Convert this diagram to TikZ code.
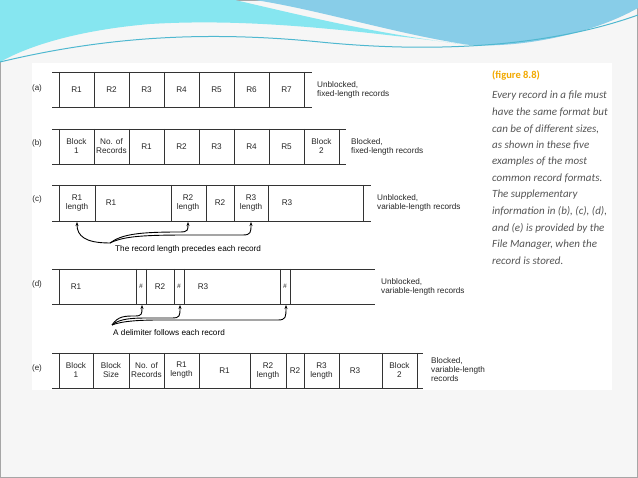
\documentclass[tikz,border=0pt]{standalone}
\usepackage{fontspec}
\setmainfont{Liberation Sans}
\newfontfamily\sidefont{Carlito}
\usetikzlibrary{arrows.meta}
\definecolor{slidebg}{HTML}{F6F6F6}
\definecolor{cyanw}{HTML}{86E6F0}
\definecolor{bluew}{HTML}{88CDE8}
\definecolor{tealw}{HTML}{4FB8D0}
\definecolor{titleor}{HTML}{F2A900}
\definecolor{bodyg}{HTML}{555555}
\tikzset{
  rl/.style={line width=0.6pt,draw=black!80},
  cell/.style={font=\fontsize{8.2}{9}\selectfont,align=center,inner sep=0pt,text=black!85},
  rowlab/.style={font=\fontsize{8}{9}\selectfont,inner sep=0pt,text=black!85},
  desc/.style={font=\fontsize{8.2}{9}\selectfont,align=left,anchor=west,inner sep=0pt,text=black!85},
  note/.style={font=\fontsize{8.2}{9}\selectfont,anchor=west,inner sep=0pt,text=black},
  arr/.style={line width=0.9pt,-{Stealth[length=4pt,width=3pt]}},
  side/.style={font=\sidefont\itshape\fontsize{11}{12}\selectfont,text=bodyg,anchor=west,inner sep=0pt}
}
\begin{document}
\begin{tikzpicture}[x=1pt,y=-1pt]
\useasboundingbox (0,0) rectangle (638,478);
\fill[slidebg] (0,0) rectangle (638,478);
\draw[gray!70,line width=0.8pt] (0.5,0.5) rectangle (637.5,477.5);
% banner
\fill[cyanw] (0,0)--(235,0) .. controls (300,15) and (380,35) .. (470,45) .. controls (350,30) and (250,18) .. (150,24) .. controls (80,30) and (30,45) .. (0,62) -- cycle;
\fill[bluew] (255,0)--(638,0)--(638,8) .. controls (590,35) and (520,48) .. (470,45) .. controls (400,35) and (320,10) .. (255,0) -- cycle;
\draw[tealw,line width=1pt] (0,62) .. controls (100,38) and (200,30) .. (320,42) .. controls (420,52) and (540,50) .. (638,15);
% white panel
\fill[white] (32,63) rectangle (612,390);
% (a)
\node[rowlab] (la) at (37,88) {(a)};
\draw[rl] (52,72)--(312,72) (52,107)--(312,107);
\foreach \x in {59,94,129,164,199,234,269,304} \draw[rl] (\x,72)--(\x,107);
\foreach \c/\t [count=\i] in {76.5/R1,111.5/R2,146.5/R3,181.5/R4,216.5/R5,251.5/R6,286.5/R7}
  \node[cell] (a\i) at (\c,90) {\t};
\node[desc] (da) at (317,90) {Unblocked,\\fixed-length records};
% (b)
\node[rowlab] (lb) at (37,143) {(b)};
\draw[rl] (52,129)--(346,129) (52,164)--(346,164);
\foreach \x in {59,94,129,164,199,234,269,304,339} \draw[rl] (\x,129)--(\x,164);
\foreach \c/\t [count=\i] in {76.5/Block\\1,111.5/No. of\\Records,146.5/R1,181.5/R2,216.5/R3,251.5/R4,286.5/R5,321.5/Block\\2}
  \node[cell] (b\i) at (\c,146.5) {\t};
\node[desc] (db) at (351,147) {Blocked,\\fixed-length records};
% (c)
\node[rowlab] (lc) at (37,199) {(c)};
\draw[rl] (52,185)--(371,185) (52,221)--(371,221);
\foreach \x in {59,95,171,206,234,268,363} \draw[rl] (\x,185)--(\x,221);
\node[cell] (c1) at (77,203) {R1\\length};
\node[cell] (c2) at (111,203) {R1};
\node[cell] (c3) at (188,203) {R2\\length};
\node[cell] (c4) at (220,203) {R2};
\node[cell] (c5) at (251,203) {R3\\length};
\node[cell] (c6) at (287,203) {R3};
\node[desc] (dc) at (377,203) {Unblocked,\\variable-length records};
\coordinate (co) at (110,243);
\coordinate (ct1) at (77,222);
\coordinate (ct2) at (188,222);
\coordinate (ct3) at (251,222);
\draw[arr] (co) .. controls (85,243) and (77,236) .. (ct1);
\draw[arr] (co) .. controls (122,234) and (140,232) .. (180,232) .. controls (188,232) and (188,230) .. (ct2);
\draw[arr] (co) .. controls (124,236) and (145,235) .. (190,235) -- (243,235) .. controls (251,235) and (251,232) .. (ct3);
\node[note] (nc) at (115,249) {The record length precedes each record};
% (d)
\node[rowlab] (ld) at (37,284) {(d)};
\draw[rl] (52,269)--(375,269) (52,304)--(375,304);
\foreach \x in {59,136,146,174,184,280,290} \draw[rl] (\x,269)--(\x,304);
\node[cell] (d1) at (76,287) {R1};
\node[cell,font=\fontsize{6.5}{7}\selectfont\itshape] (h1) at (141,286) {\#};
\node[cell] (d2) at (160,287) {R2};
\node[cell,font=\fontsize{6.5}{7}\selectfont\itshape] (h2) at (179,286) {\#};
\node[cell] (d3) at (203,287) {R3};
\node[cell,font=\fontsize{6.5}{7}\selectfont\itshape] (h3) at (285,286) {\#};
\node[desc] (dd) at (381,287) {Unblocked,\\variable-length records};
\coordinate (do) at (112,325);
\coordinate (dt1) at (142,305);
\coordinate (dt2) at (180,305);
\coordinate (dt3) at (286,305);
\draw[arr] (do) .. controls (118,316) and (125,316) .. (135,316) .. controls (142,316) and (142,314) .. (dt1);
\draw[arr] (do) .. controls (120,318) and (135,318) .. (150,318) -- (172,318) .. controls (180,318) and (180,316) .. (dt2);
\draw[arr] (do) .. controls (122,321) and (140,320) .. (160,320) -- (278,320) .. controls (286,320) and (286,317) .. (dt3);
\node[note] (nd) at (113,333) {A delimiter follows each record};
% (e)
\node[rowlab] (le) at (37,368) {(e)};
\draw[rl] (52,353)--(423,353) (52,388)--(423,388);
\foreach \x in {59,93,129,164,199,250,286,304,339,382,417} \draw[rl] (\x,353)--(\x,388);
\foreach \c/\t [count=\i] in {76/Block\\1,111/Block\\Size,146.5/No. of\\Records,181.5/R1\\length,224.5/R1,268/R2\\length,295/R2,321.5/R3\\length,355/R3,399.5/Block\\2}
  \node[cell] (e\i) at (\c,370.5) {\t};
\node[desc] (de) at (431,370) {Blocked,\\variable-length\\records};
% side text
\node[side,text=titleor,font=\sidefont\bfseries\fontsize{10.5}{12}\selectfont] (st) at (492,75) {(figure 8.8)};
\foreach \t [count=\i] in {Every record in a file must,have the same format but,can be of different sizes\rlap{,},as shown in these five,examples of the most,common record formats.,The supplementary,{information in (b), (c), (d),},and (e) is provided by the,{File Manager, when the},record is stored.}
  \node[side] (s\i) at (492,{96+16.5*(\i-1)}) {\t};
\end{tikzpicture}
\end{document}
